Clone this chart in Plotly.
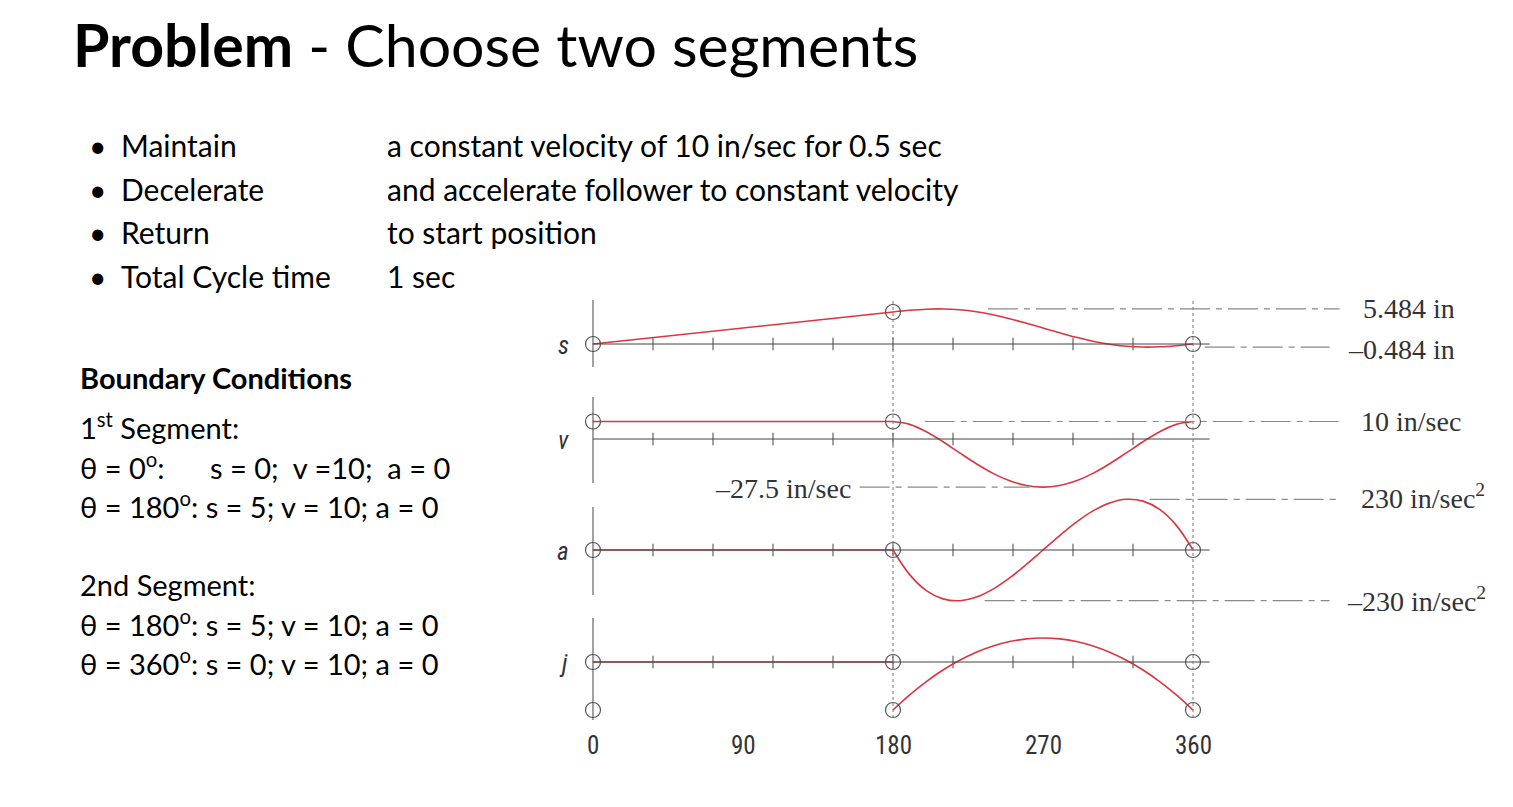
import plotly.graph_objects as go

W, H = 1513, 807

# ---------------- data ----------------
theta_seg1 = [0, 180]
s_seg1 = [0, 5]
v_seg1 = [10, 10]
a_seg1 = [0, 0]
j_seg1 = [0, 0]

theta_seg2 = [180, 190, 200, 210, 220, 230, 240, 250, 260, 270,
              280, 290, 300, 310, 320, 330, 340, 350, 360]
s_seg2 = [5, 5.262, 5.440, 5.478, 5.347, 5.039, 4.568, 3.960, 3.255, 2.5,
          1.745, 1.040, 0.432, -0.039, -0.347, -0.478, -0.440, -0.262, 0]
v_seg2 = [10, 8.35, 4.15, -1.57, -7.92, -14.15, -19.63, -23.89, -26.58, -27.5,
          -26.58, -23.89, -19.63, -14.15, -7.92, -1.57, 4.15, 8.35, 10]
a_seg2 = [0, -111.9, -184.4, -222.2, -230.5, -214.0, -177.8, -126.8, -65.8, 0,
          65.8, 126.8, 177.8, 214.0, 230.5, 222.2, 184.4, 111.9, 0]
j_seg2 = [-4800, -3289, -1956, -800, 178, 978, 1600, 2044, 2311, 2400,
          2311, 2044, 1600, 978, 178, -800, -1956, -3289, -4800]

theta_ticks = [36, 72, 108, 144, 180, 216, 252, 288, 324]
x_tick_labels = [0, 90, 180, 270, 360]
boundary_theta = [0, 180, 360]
s_circles = [0, 5, 0]
v_circles = [10, 10, 10]
a_circles = [0, 0, 0]
j_circles = [0, 0, 0]
j_circles_low = [-4800, -4800, -4800]

s_max, s_min = 5.484, -0.484
v_const, v_min = 10, -27.5
a_max, a_min = 230, -230

# ---------------- layout helpers ----------------
X0PX, DEG_PX = 593, 300 / 180.0
x_range = [-X0PX / DEG_PX, (W - X0PX) / DEG_PX]


def yrange(zero_px, px_per_unit):
    return [(zero_px - H) / px_per_unit, zero_px / px_per_unit]


def px(x):
    return x / W


def py(y):
    return 1 - y / H


RED = "#dc3540"
GREY = "#555555"
AXC = "#444444"
LEAD = "#8a8a8a"
CIRC = dict(symbol="circle-open", size=15, color=GREY,
            line=dict(color=GREY, width=1.2))

fig = go.Figure()

axes = [("y", s_seg1, s_seg2, s_circles),
        ("y2", v_seg1, v_seg2, v_circles),
        ("y3", a_seg1, a_seg2, a_circles),
        ("y4", j_seg1, j_seg2, j_circles)]

for yax, seg1, seg2, circ in axes:
    fig.add_trace(go.Scatter(x=theta_ticks, y=[0] * len(theta_ticks), yaxis=yax,
                             mode="markers",
                             marker=dict(symbol="line-ns", size=9, color=AXC,
                                         line=dict(color=AXC, width=1)),
                             hoverinfo="skip", showlegend=False))
    fig.add_trace(go.Scatter(x=theta_seg1, y=seg1, yaxis=yax, mode="lines",
                             line=dict(color=RED, width=1.6),
                             showlegend=False))
    fig.add_trace(go.Scatter(x=theta_seg2, y=seg2, yaxis=yax, mode="lines",
                             line=dict(color=RED, width=1.6, shape="spline",
                                       smoothing=1.0),
                             showlegend=False))
    fig.add_trace(go.Scatter(x=boundary_theta, y=circ, yaxis=yax, mode="markers",
                             marker=CIRC, showlegend=False))

fig.add_trace(go.Scatter(x=boundary_theta, y=j_circles_low, yaxis="y4",
                         mode="markers", marker=CIRC, showlegend=False))

shapes = []
for yref in ["y", "y2", "y3", "y4"]:
    shapes.append(dict(type="line", xref="x", yref=yref, x0=0, x1=370,
                       y0=0, y1=0, line=dict(color=AXC, width=1)))
for top, bot in [(300, 367), (397, 483), (507, 595), (618, 720)]:
    shapes.append(dict(type="line", xref="x", yref="paper", x0=0, x1=0,
                       y0=py(bot), y1=py(top), line=dict(color=AXC, width=1)))
for th in boundary_theta[1:]:
    shapes.append(dict(type="line", xref="x", yref="paper", x0=th, x1=th,
                       y0=py(718), y1=py(300),
                       line=dict(color="#777777", width=1, dash="3px,3px")))
DD = "30px,6px,6px,6px"
leaders = [("y", s_max, 237, 448), ("y", s_min, 367, 442),
           ("y2", v_const, 199, 448), ("y2", v_min, 160, 262),
           ("y3", a_max, 334, 448), ("y3", a_min, 235, 442)]
for yref, val, xa, xb in leaders:
    shapes.append(dict(type="line", xref="x", yref=yref, x0=xa, x1=xb,
                       y0=val, y1=val, line=dict(color=LEAD, width=1.2, dash=DD)))

ann = []
SERIF = "Liberation Serif, Times New Roman, serif"
ann_specs = [("y", s_max, 1361, "5.484 in", 0),
             ("y", s_min, 1346, "\u20130.484 in", -2),
             ("y2", v_const, 1359, "10 in/sec", 0),
             ("y3", a_max, 1359, "230 in/sec<sup>2</sup>", 3),
             ("y3", a_min, 1345, "\u2013230 in/sec<sup>2</sup>", 1)]
for yref, val, xl, txt, ys in ann_specs:
    ann.append(dict(xref="paper", yref=yref, x=px(xl), y=val, text=txt,
                    xanchor="left", yanchor="middle", showarrow=False, yshift=ys,
                    font=dict(family=SERIF, size=28, color="#333333")))
ann.append(dict(xref="paper", yref="y2", x=px(853), y=v_min,
                text="\u201327.5 in/sec", xanchor="right", yanchor="middle",
                showarrow=False, yshift=-1,
                font=dict(family=SERIF, size=28, color="#333333")))

NARROW = ("Liberation Sans Narrow, Arial Narrow, Roboto Condensed, "
          "DejaVu Sans Condensed, Liberation Sans, Arial")
for name, yref in [("s", "y"), ("v", "y2"), ("a", "y3"), ("j", "y4")]:
    ann.append(dict(xref="paper", yref=yref, x=px(563), y=0,
                    text="<i>%s</i>" % name, xanchor="center", yanchor="middle",
                    showarrow=False, yshift=-1,
                    font=dict(family=NARROW, size=25, color="#333333")))
for t in x_tick_labels:
    ann.append(dict(xref="x", yref="paper", x=t, y=py(745), text=str(t),
                    xanchor="center", yanchor="middle", showarrow=False,
                    font=dict(family=NARROW, size=25, color="#333333")))

SANS = "Lato, Open Sans, sans-serif"
ann.append(dict(xref="paper", yref="paper", x=px(71), y=py(45),
                text="<b>Problem</b> - Choose two segments",
                xanchor="left", yanchor="middle", showarrow=False,
                font=dict(family=SANS, size=59, color="#000000")))

bullets = [("Maintain", "a constant velocity of 10 in/sec for 0.5 sec", 145),
           ("Decelerate", "and accelerate follower to constant velocity", 189),
           ("Return", "to start position", 232),
           ("Total Cycle time", "1 sec", 276)]
for lab, desc, yy in bullets:
    ann.append(dict(xref="paper", yref="paper", x=px(97), y=py(yy), text="\u2022",
                    xanchor="center", yanchor="middle", showarrow=False,
                    font=dict(family=SANS, size=30, color="#000000")))
    ann.append(dict(xref="paper", yref="paper", x=px(119), y=py(yy), text=lab,
                    xanchor="left", yanchor="middle", showarrow=False,
                    font=dict(family=SANS, size=30, color="#000000")))
    ann.append(dict(xref="paper", yref="paper", x=px(385), y=py(yy), text=desc,
                    xanchor="left", yanchor="middle", showarrow=False,
                    font=dict(family=SANS, size=30, color="#000000")))

NB = "\u00a0"
bc_lines = [("<b>Boundary Conditions</b>", 377, 78),
            ("1<sup>st</sup> Segment:", 426, 78),
            ("\u03b8 = 0<sup>o</sup>:", 466, 78),
            ("s = 0;" + NB + NB + "v =10;" + NB + NB + "a = 0", 467, 208),
            ("\u03b8 = 180<sup>o</sup>: s = 5; v = 10; a = 0", 505, 78),
            ("2nd Segment:", 584, 78),
            ("\u03b8 = 180<sup>o</sup>: s = 5; v = 10; a = 0", 623, 78),
            ("\u03b8 = 360<sup>o</sup>: s = 0; v = 10; a = 0", 662, 78)]
for txt, yy, xx in bc_lines:
    ann.append(dict(xref="paper", yref="paper", x=px(xx), y=py(yy), text=txt,
                    xanchor="left", yanchor="middle", showarrow=False,
                    font=dict(family=SANS, size=29, color="#000000")))

fig.update_layout(
    width=W, height=H, autosize=False,
    margin=dict(l=0, r=0, t=0, b=0),
    paper_bgcolor="white", plot_bgcolor="white",
    showlegend=False,
    xaxis=dict(range=x_range, visible=False, domain=[0, 1], fixedrange=True),
    yaxis=dict(range=yrange(344, 6.4), visible=False, domain=[0, 1],
               fixedrange=True),
    yaxis2=dict(range=yrange(439, 1.75), visible=False, overlaying="y",
                fixedrange=True),
    yaxis3=dict(range=yrange(550, 0.22), visible=False, overlaying="y",
                fixedrange=True),
    yaxis4=dict(range=yrange(662, 0.01), visible=False, overlaying="y",
                fixedrange=True),
    shapes=shapes, annotations=ann,
)

fig.write_html("out.html", config={"displayModeBar": False})
